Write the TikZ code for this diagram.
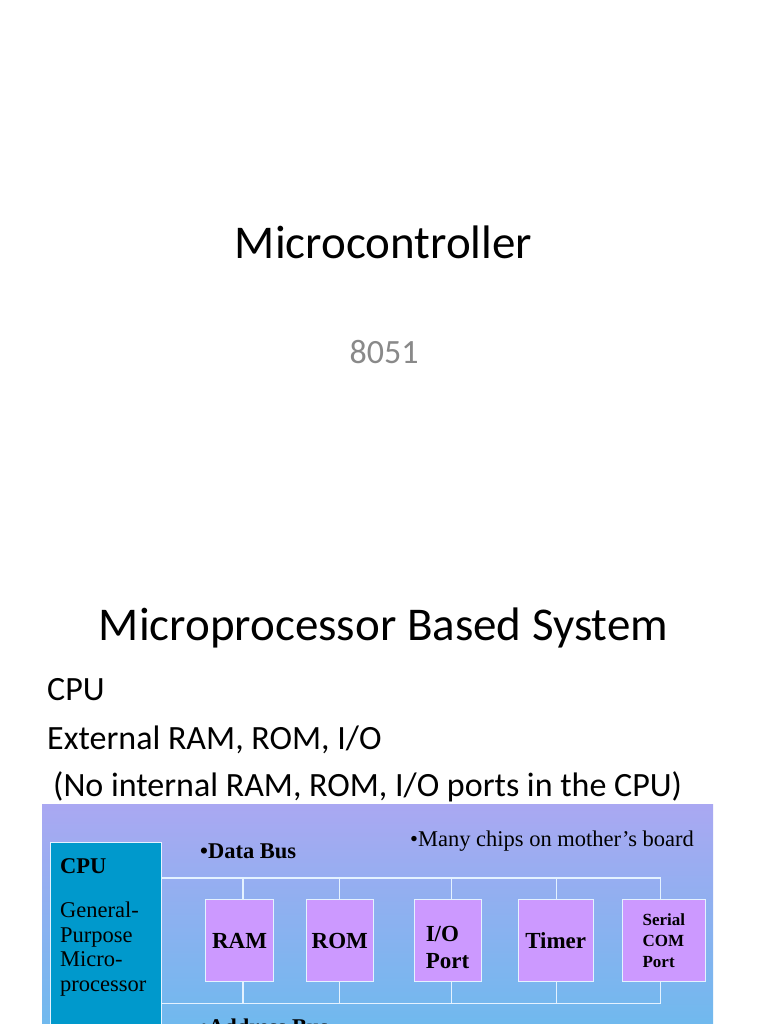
\documentclass[tikz,border=0pt]{standalone}
\usepackage{fontspec}
\setmainfont{Liberation Serif}
\newfontfamily\slidefont{Carlito}
\usepackage{xcolor}
\usetikzlibrary{positioning}
\definecolor{bgtop}{RGB}{170,168,242}
\definecolor{bgbot}{RGB}{112,185,238}
\definecolor{cpufill}{RGB}{0,153,204}
\definecolor{chipfill}{RGB}{204,153,255}
\definecolor{busline}{RGB}{228,242,255}
\definecolor{subgray}{RGB}{137,137,137}

\begin{document}
\begin{tikzpicture}[x=1pt,y=-1pt,title/.style={font=\slidefont\fontsize{47}{56}\selectfont,inner sep=0pt},body/.style={font=\slidefont\fontsize{34}{40}\selectfont,anchor=base west,inner sep=0pt},chip/.style={draw=busline,line width=0.8pt,fill=chipfill,minimum height=82pt,inner sep=0pt,align=left,font=\bfseries\fontsize{23}{27}\selectfont},bus/.style={draw=busline,line width=1.4pt},lbl/.style={font=\fontsize{22.5}{26}\selectfont,inner sep=0pt,anchor=base west}]
\useasboundingbox (0,0) rectangle (768,1024);
\clip (0,0) rectangle (768,1024);
\fill[white] (0,0) rectangle (768,1024);
% first slide
\node[title] (mc) at (383.5,242) {Microcontroller};
\node[font=\slidefont\fontsize{34}{40}\selectfont,text=subgray,inner sep=0pt] (sub) at (384,352) {8051};
% second slide
\node[title] (mps) at (383.5,628) {Microprocessor Based System};
\node[body] (l1) at (47,700) {CPU};
\node[body] (l2) at (47,749) {External RAM, ROM, I/O};
\node[body] (l3) at (53,796) {(No internal RAM, ROM, I/O ports in the CPU)};
% board
\fill[top color=bgtop,bottom color=bgbot] (42,804) rectangle (713,1024);
\node[draw=busline,line width=0.8pt,fill=cpufill,anchor=north west,minimum width=111pt,minimum height=200pt,inner sep=0pt] (cpu) at (49.5,841.5) {};
\node[anchor=base west,inner sep=0pt,align=left,font=\fontsize{22.5}{24.5}\selectfont] (cputxt) at (60,991) {\textbf{CPU}\\[19.5pt]General-\\Purpose\\Micro-\\processor};
\coordinate (dbus) at (0,878);
\coordinate (abus) at (0,1003.3);
\node[chip,minimum width=67.6pt] (ram) at (239.5,940.5) {RAM};
\node[chip,minimum width=67pt,right=32.2pt of ram] (rom) {ROM};
\node[chip,minimum width=67pt,right=39.9pt of rom,text height=55pt,text depth=0pt] (io) {I/O\\Port};
\node[chip,minimum width=75pt,right=36.4pt of io] (timer) {Timer};
\node[chip,minimum width=82.4pt,right=28.6pt of timer,font=\bfseries\fontsize{17}{21}\selectfont] (ser) {Serial\\COM\\Port};
\draw[bus] (cpu.east |- dbus) -| ([xshift=-3.1pt]ser.north);
\draw[bus] (cpu.east |- abus) -| ([xshift=-3.1pt]ser.south);
\draw[bus] ([xshift=3.5pt]ram.north) -- ([xshift=3.5pt]ram.north |- dbus); \draw[bus] ([xshift=3.5pt]ram.south) -- ([xshift=3.5pt]ram.south |- abus);
\draw[bus] ([xshift=-0.5pt]rom.north) -- ([xshift=-0.5pt]rom.north |- dbus); \draw[bus] ([xshift=-0.5pt]rom.south) -- ([xshift=-0.5pt]rom.south |- abus);
\draw[bus] ([xshift=4.2pt]io.north) -- ([xshift=4.2pt]io.north |- dbus); \draw[bus] ([xshift=4.2pt]io.south) -- ([xshift=4.2pt]io.south |- abus);
\draw[bus] ([xshift=0.8pt]timer.north) -- ([xshift=0.8pt]timer.north |- dbus); \draw[bus] ([xshift=0.8pt]timer.south) -- ([xshift=0.8pt]timer.south |- abus);
\node[lbl,font=\bfseries\fontsize{22.5}{26}\selectfont] (dlbl) at (200,858.5) {\textbullet Data Bus};
\node[lbl] (mlbl) at (410,846.5) {\textbullet Many chips on mother’s board};
\node[lbl,font=\bfseries\fontsize{22.5}{26}\selectfont] (albl) at (200,1034) {\textbullet Address Bus};
\end{tikzpicture}
\end{document}
